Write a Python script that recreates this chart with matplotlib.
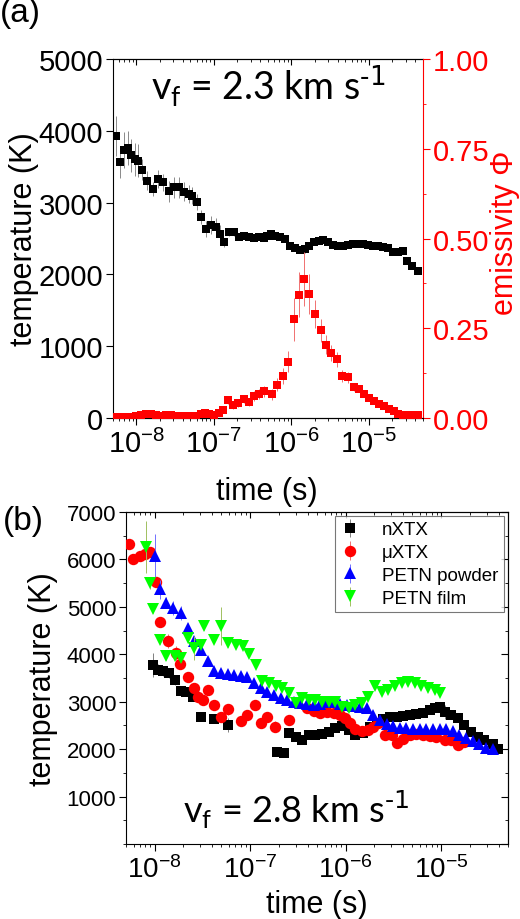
import numpy as np
import matplotlib
matplotlib.use('Agg')
import matplotlib.pyplot as plt
from matplotlib.ticker import FixedLocator, MultipleLocator, FormatStrFormatter, LogLocator, NullFormatter

plt.rcParams['font.family'] = ['Liberation Sans', 'DejaVu Sans']

# ---------------- panel (a): vf = 2.3 km/s ----------------
# times as log10(t / s)
a_temp_logt = [-8.256, -8.214, -8.162, -8.107, -8.064, -8.021, -7.979, -7.923, -7.859, -7.786,
               -7.722, -7.650, -7.581, -7.517, -7.453, -7.389, -7.325, -7.286, -7.222, -7.167,
               -7.103, -7.038, -6.974, -6.923, -6.868, -6.803, -6.739, -6.675, -6.611, -6.547,
               -6.483, -6.419, -6.355, -6.312, -6.256, -6.205, -6.141, -6.077, -6.013, -5.949,
               -5.885, -5.821, -5.765, -5.705, -5.645, -5.585, -5.521, -5.457, -5.393, -5.329,
               -5.265, -5.201, -5.137, -5.073, -5.009, -4.944, -4.880, -4.816, -4.752, -4.688,
               -4.624, -4.560, -4.509, -4.440, -4.368]
a_temp = [3933, 3571, 3738, 3761, 3664, 3608, 3585, 3460, 3307, 3191,
          3330, 3284, 3159, 3214, 3214, 3154, 3122, 3098, 3006, 2797,
          2634, 2690, 2658, 2565, 2449, 2588, 2588, 2519, 2532, 2519,
          2505, 2519, 2505, 2532, 2565, 2542, 2519, 2495, 2403, 2365,
          2347, 2356, 2403, 2458, 2472, 2486, 2458, 2412, 2403, 2403,
          2412, 2426, 2421, 2421, 2412, 2403, 2393, 2379, 2365, 2319,
          2310, 2333, 2194, 2124, 2055]
a_temp_err = [280, 220, 250, 240, 230, 230, 230, 150, 130, 100,
              120, 120, 150, 150, 150, 130, 120, 120, 110, 100,
              110, 120, 130, 120, 60, 50, 50, 40, 40, 40,
              35, 35, 35, 35, 30, 30, 30, 30, 30, 30,
              40, 60, 30, 30, 25, 25, 25, 25, 25, 25,
              25, 25, 25, 25, 25, 25, 25, 25, 25, 25,
              25, 25, 25, 25, 25]

a_emis_logt = [-8.256, -8.192, -8.128, -8.064, -8.000, -7.936, -7.872, -7.808, -7.744, -7.679,
               -7.615, -7.551, -7.487, -7.423, -7.359, -7.295, -7.231, -7.167, -7.115, -7.056,
               -6.996, -6.932, -6.876, -6.812, -6.748, -6.684, -6.611, -6.547, -6.483, -6.419,
               -6.355, -6.248, -6.184, -6.107, -6.043, -5.970, -5.897, -5.833, -5.765, -5.692,
               -5.620, -5.551, -5.487, -5.415, -5.342, -5.265, -5.192, -5.128, -5.064, -5.000,
               -4.936, -4.872, -4.808, -4.744, -4.679, -4.624, -4.560, -4.496, -4.432, -4.368]
a_emis = [0.002, 0.002, 0.003, 0.004, 0.005, 0.007, 0.010, 0.011, 0.008, 0.006,
          0.007, 0.008, 0.006, 0.005, 0.005, 0.005, 0.006, 0.010, 0.013, 0.010,
          0.008, 0.013, 0.022, 0.050, 0.036, 0.041, 0.053, 0.044, 0.062, 0.067,
          0.074, 0.066, 0.093, 0.118, 0.157, 0.275, 0.344, 0.388, 0.346, 0.290,
          0.244, 0.204, 0.182, 0.163, 0.117, 0.113, 0.086, 0.082, 0.068, 0.056,
          0.046, 0.040, 0.033, 0.026, 0.019, 0.012, 0.007, 0.009, 0.008, 0.008]
a_emis_err = [0.002, 0.002, 0.002, 0.002, 0.002, 0.003, 0.003, 0.003, 0.003, 0.003,
              0.003, 0.003, 0.003, 0.003, 0.003, 0.003, 0.004, 0.004, 0.005, 0.005,
              0.005, 0.006, 0.008, 0.012, 0.010, 0.010, 0.012, 0.012, 0.014, 0.015,
              0.016, 0.015, 0.018, 0.022, 0.030, 0.060, 0.062, 0.075, 0.055, 0.040,
              0.032, 0.026, 0.022, 0.020, 0.016, 0.015, 0.012, 0.011, 0.010, 0.009,
              0.008, 0.007, 0.006, 0.006, 0.005, 0.004, 0.004, 0.004, 0.004, 0.004]

# ---------------- panel (b): vf = 2.8 km/s ----------------
n_logt = [-8.017, -7.965, -7.913, -7.851, -7.792, -7.723, -7.670, -7.601, -7.514, -7.376,
          -7.230, -6.717, -6.647, -6.595, -6.526, -6.456, -6.387, -6.318, -6.248, -6.179,
          -6.110, -6.040, -5.971, -5.902, -5.815, -5.745, -5.676, -5.607, -5.537, -5.468,
          -5.399, -5.329, -5.260, -5.190, -5.121, -5.069, -5.017, -4.965, -4.896, -4.826,
          -4.757, -4.688, -4.618, -4.549, -4.462, -4.410]
n_temp = [3767, 3675, 3639, 3604, 3462, 3236, 3215, 3108, 2684, 2627,
          2507, 1941, 1920, 2344, 2260, 2189, 2295, 2295, 2316, 2366,
          2443, 2486, 2400, 2288, 2344, 2458, 2542, 2627, 2684, 2670,
          2698, 2719, 2740, 2769, 2826, 2861, 2896, 2790, 2719, 2649,
          2507, 2366, 2260, 2189, 2118, 2012]
n_err = [250, 120, 100, 100, 100, 80, 80, 80, 100, 80,
         150, 90, 90, 60, 40, 40, 40, 40, 40, 40,
         40, 40, 40, 40, 40, 40, 40, 40, 40, 40,
         40, 40, 40, 40, 40, 50, 60, 150, 60, 50,
         50, 50, 40, 40, 40, 40]

u_logt = [-8.267, -8.225, -8.156, -8.104, -8.052, -7.990, -7.948, -7.861, -7.781, -7.733,
          -7.653, -7.584, -7.549, -7.497, -7.445, -7.376, -7.306, -7.237, -7.098, -7.029,
          -6.953, -6.890, -6.821, -6.744, -6.595, -6.404, -6.335, -6.266, -6.196, -6.127,
          -6.058, -6.006, -5.954, -5.902, -5.832, -5.763, -5.711, -5.659, -5.589, -5.520,
          -5.468, -5.399, -5.329, -5.260, -5.190, -5.121, -5.052, -4.965, -4.896, -4.826,
          -4.757]
u_temp = [6328, 6009, 6080, 6116, 6151, 5528, 4679, 4276, 4028, 3795,
          3519, 3285, 3108, 3038, 3250, 2932, 2684, 2840, 2592, 2719,
          2932, 2542, 2684, 2472, 2613, 2861, 2811, 2755, 2790, 2769,
          2719, 2649, 2557, 2415, 2387, 2401, 2458, 2542, 2295, 2295,
          2132, 2224, 2295, 2330, 2295, 2274, 2260, 2203, 2189, 2082,
          2153]
u_err = [80, 60, 60, 60, 60, 80, 100, 150, 150, 100,
         80, 80, 80, 80, 80, 80, 60, 120, 60, 80,
         60, 60, 80, 120, 60, 50, 50, 50, 50, 50,
         50, 50, 50, 40, 40, 40, 40, 40, 40, 40,
         40, 40, 40, 40, 40, 40, 40, 40, 40, 40,
         40]

p_logt = [-8.000, -7.948, -7.879, -7.809, -7.723, -7.653, -7.591, -7.514, -7.445, -7.376,
          -7.306, -7.237, -7.168, -7.098, -7.029, -6.959, -6.890, -6.821, -6.751, -6.682,
          -6.613, -6.543, -6.474, -6.404, -6.335, -6.266, -6.196, -6.127, -6.058, -5.988,
          -5.919, -5.849, -5.780, -5.711, -5.641, -5.572, -5.503, -5.433, -5.364, -5.294,
          -5.225, -5.156, -5.086, -5.017, -4.948, -4.878, -4.809, -4.740, -4.670, -4.601,
          -4.531, -4.462]
p_temp = [6080, 5373, 5090, 4976, 4863, 4559, 4290, 4099, 3851, 3639,
          3604, 3590, 3568, 3547, 3519, 3392, 3285, 3215, 3144, 3073,
          3038, 3002, 2967, 2950, 2940, 2960, 2990, 2985, 2960, 2930,
          2900, 2880, 2860, 2720, 2620, 2540, 2480, 2450, 2440, 2435,
          2420, 2415, 2420, 2415, 2415, 2380, 2300, 2230, 2180, 2100,
          2030, 2010]
p_err = [450, 200, 120, 150, 150, 100, 100, 80, 60, 60,
         50, 50, 50, 50, 50, 50, 50, 50, 50, 50,
         50, 50, 50, 50, 50, 50, 50, 50, 50, 50,
         50, 50, 50, 50, 50, 50, 50, 50, 50, 50,
         50, 50, 50, 50, 50, 50, 50, 50, 50, 50,
         50, 50]

f_logt = [-8.087, -8.045, -8.017, -7.948, -7.879, -7.792, -7.723, -7.653, -7.584, -7.514,
          -7.480, -7.376, -7.306, -7.237, -7.150, -7.081, -7.011, -6.942, -6.873, -6.803,
          -6.734, -6.665, -6.595, -6.526, -6.456, -6.387, -6.318, -6.248, -6.179, -6.110,
          -6.040, -5.971, -5.902, -5.832, -5.763, -5.693, -5.624, -5.555, -5.485, -5.416,
          -5.347, -5.277, -5.208, -5.138, -5.069, -5.017]
f_temp = [6257, 5500, 4962, 4311, 3958, 3958, 3922, 4347, 4134, 4205,
          4594, 4311, 4594, 4240, 4205, 4170, 4014, 3780, 3427, 3391,
          3321, 3285, 3179, 2967, 3073, 3038, 3038, 3002, 2990, 2990,
          2896, 2861, 2932, 2967, 3109, 3321, 3215, 3250, 3321, 3392,
          3406, 3392, 3321, 3285, 3250, 3179]
f_err = [550, 120, 100, 100, 80, 80, 80, 100, 250, 80,
         80, 80, 400, 80, 60, 60, 60, 60, 60, 60,
         50, 50, 50, 50, 50, 50, 50, 50, 50, 50,
         50, 50, 50, 50, 50, 60, 50, 50, 50, 50,
         60, 50, 50, 50, 50, 50]

RED = '#ff0000'
BLUE = '#0000ff'
GREEN = '#00ff00'

fig = plt.figure(figsize=(5.2, 9.2), dpi=100)

# ---------- (a) ----------
ax = fig.add_axes([0.2173, 0.5446, 0.596, 0.390])
ax2 = ax.twinx()

ax.errorbar(10.0 ** np.array(a_temp_logt), a_temp, yerr=a_temp_err, fmt='s', color='black',
            ms=5.2, mew=0, ecolor='#8a8a8a', elinewidth=0.7, capsize=1.8, capthick=0.7, zorder=3)
ax2.errorbar(10.0 ** np.array(a_emis_logt), a_emis, yerr=a_emis_err, fmt='s', color=RED,
             ms=5.2, mew=0, ecolor='#f07070', elinewidth=0.7, capsize=1.8, capthick=0.7, zorder=3)

ax.set_xscale('log')
ax.set_xlim(5e-9, 5e-5)
ax.set_ylim(0, 5000)
ax2.set_ylim(0, 1)
ax.yaxis.set_major_locator(MultipleLocator(1000))
ax2.yaxis.set_major_locator(MultipleLocator(0.25))
ax2.yaxis.set_minor_locator(MultipleLocator(0.125))
ax2.yaxis.set_major_formatter(FormatStrFormatter('%.2f'))
ax.xaxis.set_major_locator(LogLocator(base=10, numticks=10))
ax.xaxis.set_minor_locator(LogLocator(base=10, subs=np.arange(2, 10), numticks=20))
ax.xaxis.set_minor_formatter(NullFormatter())

ax.tick_params(axis='x', which='both', direction='out', top=False, labelsize=21, pad=3)
ax.tick_params(axis='x', which='major', length=5, width=0.8)
ax.tick_params(axis='x', which='minor', length=2.5, width=0.6)
ax.tick_params(axis='y', which='major', direction='out', length=5, width=0.8, labelsize=21, pad=2)
ax2.tick_params(axis='y', which='both', direction='out', colors=RED, labelsize=21, pad=2)
ax2.tick_params(axis='y', which='major', length=5, width=0.8)
ax2.tick_params(axis='y', which='minor', length=2.5, width=0.6)
ax2.spines['right'].set_color(RED)
ax2.spines['left'].set_visible(False)
ax2.spines['top'].set_visible(False)
ax.spines['right'].set_visible(False)
for s in ax.spines.values():
    s.set_linewidth(0.8)
ax2.spines['right'].set_linewidth(0.8)

# top edge ticks pointing inward
axt = ax.secondary_xaxis('top')
axt.xaxis.set_major_locator(LogLocator(base=10, numticks=10))
axt.xaxis.set_minor_locator(LogLocator(base=10, subs=np.arange(2, 10), numticks=20))
axt.tick_params(which='both', direction='in', labeltop=False)
axt.tick_params(which='major', length=4, width=0.8)
axt.tick_params(which='minor', length=2.5, width=0.6)
axt.xaxis.set_major_formatter(NullFormatter())
axt.xaxis.set_minor_formatter(NullFormatter())

ax.text(0.5, 0.925, r'v$_\mathregular{f}$ = 2.3 km s$^{\text{-1}}$', transform=ax.transAxes,
        ha='center', va='center', fontsize=27, family=['Lato', 'DejaVu Sans'])

fig.text(0.046, 0.740, 'temperature (K)', rotation=90, ha='center', va='center', fontsize=22)
fig.text(0.972, 0.747, 'emissivity \u03a6', rotation=90, ha='center', va='center', fontsize=22, color=RED)
fig.text(0.514, 0.465, 'time (s)', ha='center', va='center', fontsize=22)
fig.text(0.0, 0.985, '(a)', ha='left', va='center', fontsize=24)

# ---------- (b) ----------
bx = fig.add_axes([0.2423, 0.0815, 0.7346, 0.3609])

bx.errorbar(10.0 ** np.array(n_logt), n_temp, yerr=n_err, fmt='s', color='black', ms=7.0, mew=0,
            ecolor='#808080', elinewidth=0.7, capsize=2, capthick=0.7, label='nXTX', zorder=3)
bx.errorbar(10.0 ** np.array(u_logt), u_temp, yerr=u_err, fmt='o', color=RED, ms=8.2, mew=0,
            ecolor='#f07070', elinewidth=0.7, capsize=2, capthick=0.7, label='\u03bcXTX', zorder=4)
bx.errorbar(10.0 ** np.array(p_logt), p_temp, yerr=p_err, fmt='^', color=BLUE, ms=9.0, mew=0,
            ecolor='#7070ff', elinewidth=0.7, capsize=2, capthick=0.7, label='PETN powder', zorder=5)
bx.errorbar(10.0 ** np.array(f_logt), f_temp, yerr=f_err, fmt='v', color=GREEN, ms=9.0, mew=0,
            ecolor='#a0c060', elinewidth=0.7, capsize=2, capthick=0.7, label='PETN film', zorder=6)

bx.set_xscale('log')
bx.set_xlim(5e-9, 5e-5)
bx.set_ylim(0, 7000)
bx.yaxis.set_major_locator(FixedLocator([1000, 2000, 3000, 4000, 5000, 6000, 7000]))
bx.yaxis.set_minor_locator(MultipleLocator(500))
bx.xaxis.set_major_locator(LogLocator(base=10, numticks=10))
bx.xaxis.set_minor_locator(LogLocator(base=10, subs=np.arange(2, 10), numticks=20))
bx.xaxis.set_minor_formatter(NullFormatter())
bx.tick_params(axis='x', which='both', direction='out', labelsize=20, pad=3)
bx.tick_params(axis='y', which='both', direction='out', labelsize=16, pad=2)
bx.tick_params(which='major', length=5, width=0.8)
bx.tick_params(which='minor', length=2.5, width=0.6)
for s in bx.spines.values():
    s.set_linewidth(0.8)

bxt = bx.secondary_xaxis('top')
bxt.xaxis.set_major_locator(LogLocator(base=10, numticks=10))
bxt.xaxis.set_minor_locator(LogLocator(base=10, subs=np.arange(2, 10), numticks=20))
bxt.tick_params(which='both', direction='in', labeltop=False)
bxt.tick_params(which='major', length=4, width=0.8)
bxt.tick_params(which='minor', length=2.5, width=0.6)
bxt.xaxis.set_major_formatter(NullFormatter())
bxt.xaxis.set_minor_formatter(NullFormatter())

bxr = bx.secondary_yaxis('right')
bxr.yaxis.set_major_locator(MultipleLocator(1000))
bxr.yaxis.set_minor_locator(MultipleLocator(500))
bxr.tick_params(which='both', direction='in', labelright=False)
bxr.tick_params(which='major', length=5, width=0.8)
bxr.tick_params(which='minor', length=2.5, width=0.6)

leg = bx.legend(loc='upper right', fontsize=13.5, frameon=True, fancybox=False, edgecolor='#555555',
                borderaxespad=0.2, handlelength=1.0, handletextpad=1.2, labelspacing=0.3,
                borderpad=0.3)
leg.get_frame().set_linewidth(0.8)

bx.text(0.445, 0.105, r'v$_\mathregular{f}$ = 2.8 km s$^{\text{-1}}$', transform=bx.transAxes,
        ha='center', va='center', fontsize=26, family=['Lato', 'DejaVu Sans'])

fig.text(0.083, 0.262, 'temperature (K)', rotation=90, ha='center', va='center', fontsize=22)
fig.text(0.610, 0.016, 'time (s)', ha='center', va='center', fontsize=22)
fig.text(0.005, 0.433, '(b)', ha='left', va='center', fontsize=24)

fig.savefig('out.png', dpi=100)
